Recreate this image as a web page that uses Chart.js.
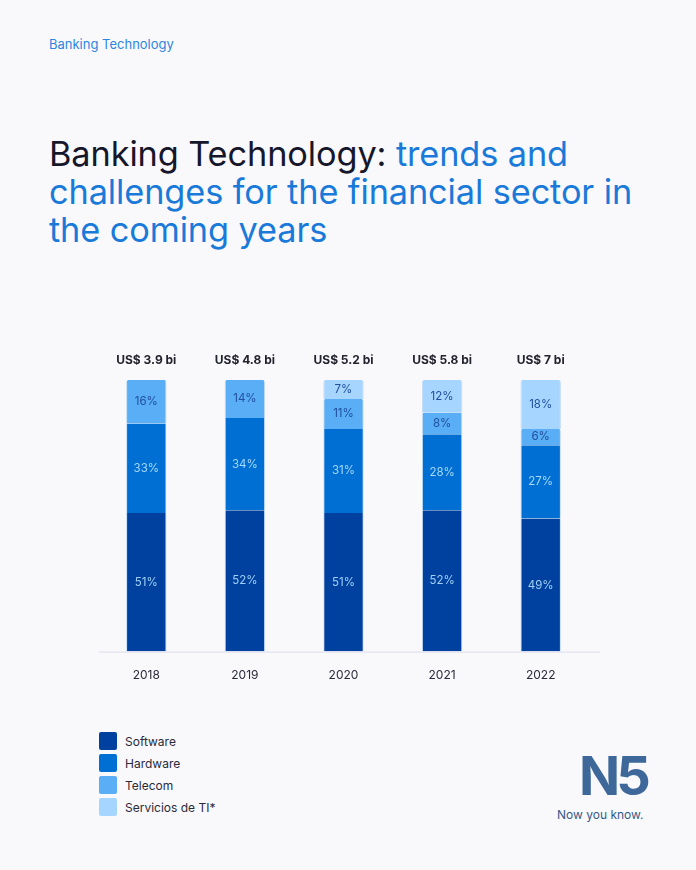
<!DOCTYPE html>
<html>
<head>
<meta charset="utf-8">
<script src="https://cdn.jsdelivr.net/npm/chart.js@4.4.1/dist/chart.umd.min.js"></script>
<style>
  html, body { margin: 0; padding: 0; }
  body {
    width: 696px; height: 870px; background: #f9f9fb; position: relative;
    font-family: "Inter", "Open Sans", sans-serif; overflow: hidden;
  }
  .kicker { position: absolute; left: 49px; top: 36px; font-size: 13px; color: #2f86df; }
  .title {
    position: absolute; left: 49px; top: 135px; width: 610px;
    font-size: 34.3px; line-height: 38px; color: #16172b; letter-spacing: -0.1px;
  }
  .title span { color: #1a7ad9; }
  #chartWrap { position: absolute; left: 0; top: 340px; width: 696px; height: 360px; }
  .legend { position: absolute; left: 99px; top: 730px; }
  .legend div { display: flex; align-items: center; height: 22px; font-size: 12px; color: #2a2a3a; }
  .legend i { display: inline-block; width: 18px; height: 18px; border-radius: 2px; margin-right: 8px; }
  .logo { position: absolute; left: 579px; top: 743px; font-size: 54px; font-weight: 700; color: #3d6899; letter-spacing: -4px; }
  .tag { position: absolute; left: 557px; top: 807px; font-size: 12px; color: #36598a; }
</style>
</head>
<body>
<div class="kicker">Banking Technology</div>
<div class="title">Banking Technology: <span>trends and challenges for the financial sector in the coming years</span></div>
<div id="chartWrap"><canvas id="bankChart"></canvas></div>
<div class="legend" id="legend"></div>
<div class="logo">N5</div>
<div class="tag">Now you know.</div>

<script>
// ---------------- Data ----------------
const years = ["2018", "2019", "2020", "2021", "2022"];
const totals = ["US$ 3.9 bi", "US$ 4.8 bi", "US$ 5.2 bi", "US$ 5.8 bi", "US$ 7 bi"];
const software = [51, 52, 51, 52, 49];
const hardware = [33, 34, 31, 28, 27];
const telecom = [16, 14, 11, 8, 6];
const servicios = [0, 0, 7, 12, 18];

const seriesNames = ["Software", "Hardware", "Telecom", "Servicios de TI*"];
const seriesColors = ["#0041a0", "#006fd3", "#5aaef5", "#a6d6ff"];
const labelColors = ["#9fd0f3", "#a8d8f8", "#1f4f9e", "#1f4f9e"];

// ---------------- Legend ----------------
const legend = document.getElementById("legend");
seriesNames.forEach((name, i) => {
  const row = document.createElement("div");
  row.innerHTML = `<i style="background:${seriesColors[i]}"></i>${name}`;
  legend.appendChild(row);
});

// ---------------- Plugin: labels + baseline ----------------
const labelPlugin = {
  id: "labelPlugin",
  afterDatasetsDraw(chart) {
    const ctx = chart.ctx;
    const area = chart.chartArea;
    ctx.save();
    // baseline
    ctx.strokeStyle = "#dcdcec";
    ctx.lineWidth = 1;
    ctx.beginPath();
    ctx.moveTo(area.left + 2, area.bottom + 0.5);
    ctx.lineTo(area.right + 10, area.bottom + 0.5);
    ctx.stroke();

    ctx.textAlign = "center";
    ctx.textBaseline = "middle";
    ctx.font = "11.5px Inter, 'Open Sans', sans-serif";
    chart.data.datasets.forEach((ds, di) => {
      const meta = chart.getDatasetMeta(di);
      meta.data.forEach((bar, i) => {
        const v = ds.data[i];
        if (!v) return;
        ctx.fillStyle = labelColors[di];
        ctx.fillText(v + "%", bar.x, (bar.y + bar.base) / 2);
      });
    });

    // totals on top
    ctx.font = "bold 12px Inter, 'Open Sans', sans-serif";
    ctx.fillStyle = "#23232f";
    const top = chart.getDatasetMeta(0).data;
    top.forEach((bar, i) => {
      ctx.fillText(totals[i], bar.x, chart.scales.y.getPixelForValue(100) - 20);
    });
    ctx.restore();
  },
};

// ---------------- Chart ----------------
const dataSets = [software, hardware, telecom, servicios].map((arr, i) => ({
  label: seriesNames[i],
  data: arr,
  backgroundColor: seriesColors[i],
  borderColor: "rgba(190, 215, 245, 0.9)",
  borderWidth: { left: 1, right: 1, top: 0, bottom: 0 },
  borderSkipped: false,
  borderRadius: i >= 2 ? { topLeft: 2, topRight: 2 } : 0,
  categoryPercentage: 1,
  barPercentage: 0.41,
}));

new Chart(document.getElementById("bankChart"), {
  type: "bar",
  data: { labels: years, datasets: dataSets },
  options: {
    responsive: true,
    maintainAspectRatio: false,
    animation: false,
    layout: { padding: { left: 97, right: 106, top: 40, bottom: 0 } },
    plugins: { legend: { display: false }, tooltip: { enabled: false } },
    scales: {
      x: {
        stacked: true,
        grid: { display: false, drawTicks: false },
        border: { display: false },
        ticks: { color: "#2a2a3a", padding: 17, font: { size: 12, family: "Inter, 'Open Sans', sans-serif" } },
      },
      y: { stacked: true, display: false, min: 0, max: 100 },
    },
  },
  plugins: [labelPlugin],
});
</script>
</body>
</html>
